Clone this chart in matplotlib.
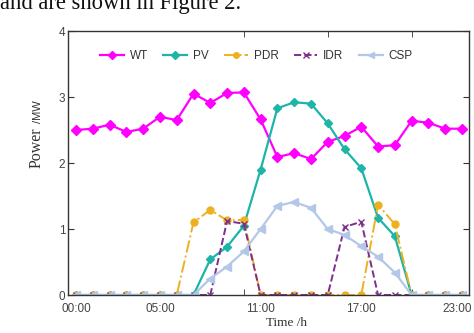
import matplotlib
matplotlib.use("Agg")
import matplotlib.pyplot as plt
import matplotlib.transforms as mtransforms
import numpy as np

hours = list(range(24))
xtick_pos = [0, 5, 11, 17, 23]
xtick_labels = ["00:00", "05:00", "11:00", "17:00", "23:00"]
minor_ticks = [0, 5, 10, 15, 20]

wt = [2.50, 2.52, 2.58, 2.47, 2.52, 2.70, 2.65, 3.05, 2.91, 3.06, 3.07, 2.66,
      2.09, 2.15, 2.06, 2.32, 2.41, 2.55, 2.25, 2.27, 2.64, 2.61, 2.52, 2.52]
pv = [0, 0, 0, 0, 0, 0, 0, 0, 0.54, 0.73, 1.05, 1.90,
      2.83, 2.92, 2.90, 2.60, 2.21, 1.92, 1.17, 0.89, 0, 0, 0, 0]
pdr = [0, 0, 0, 0, 0, 0, 0, 1.10, 1.29, 1.13, 1.14, 0,
       0, 0, 0, 0, 0, 0, 1.37, 1.07, 0, 0, 0, 0]
idr = [0, 0, 0, 0, 0, 0, 0, 0, 0, 1.12, 1.08, 0,
       0, 0, 0, 0, 1.03, 1.11, 0, 0, 0, 0, 0, 0]
csp = [0, 0, 0, 0, 0, 0, 0, 0, 0.25, 0.43, 0.66, 1.00,
       1.35, 1.41, 1.32, 1.00, 0.91, 0.74, 0.58, 0.34, 0, 0, 0, 0]

W, H = 474, 333
fig = plt.figure(figsize=(W / 100, H / 100), dpi=100)
ax = fig.add_axes([68 / W, 1 - 295 / H, (469 - 68) / W, (295 - 31) / H])

ax.plot(hours, wt, color="#FF00FF", marker="D", ms=5.5, lw=1.6, label="WT")
ax.plot(hours, pv, color="#1CB5A8", marker="D", ms=4.5, lw=1.6, label="PV")
ax.plot(hours, pdr, color="#EDB120", marker="o", ms=5, lw=1.4, ls="-.", label="PDR")
ax.plot(hours, idr, color="#7E2F8E", marker="x", ms=5, lw=1.4, ls="--", label="IDR")
ax.plot(hours, csp, color="#B3C8E8", marker="<", ms=5.5, lw=1.6, label="CSP")

ax.set_xlim(-0.48, 23.42)
ax.set_ylim(0, 4)
ax.set_yticks([0, 1, 2, 3, 4])
ax.set_xticks(xtick_pos)
ax.set_xticklabels(xtick_labels, family="Liberation Sans", fontsize=8.5, color="#444444")
ax.set_yticklabels(["0", "1", "2", "3", "4"], family="Liberation Sans", fontsize=8.5, color="#444444")
ax.tick_params(axis="x", which="major", length=0, pad=6)
ax.set_xticks(minor_ticks, minor=True)
ax.tick_params(axis="x", which="minor", direction="in", length=4, top=True, bottom=True, color="#333333")
ax.tick_params(axis="y", which="major", direction="in", length=4, left=True, right=True, pad=2, color="#333333")
for s in ax.spines.values():
    s.set_color("#333333")
    s.set_linewidth(1.0)

last = ax.get_xticklabels()[-1]
last.set_transform(last.get_transform() + mtransforms.ScaledTranslation(-5 / 100, 0, fig.dpi_scale_trans))

leg = ax.legend(loc="center", bbox_to_anchor=(0.47, 0.905), ncol=5, frameon=False,
                prop={"family": "Liberation Sans", "size": 8.5}, handlelength=2.0,
                columnspacing=1.3, handletextpad=0.5, markerscale=0.8)
for t in leg.get_texts():
    t.set_color("#333333")

fig.text(37 / W, 1 - 148 / H, "Power", rotation=90, ha="center", va="center",
         family="Liberation Serif", fontsize=11.5, color="#333333")
fig.text(38 / W, 1 - 112 / H, "/MW", rotation=90, ha="center", va="center",
         family="Liberation Sans", fontsize=8, color="#333333")
fig.text(287 / W, 1 - 323 / H, "Time /h", ha="center", va="center",
         family="Liberation Serif", fontsize=9.5, color="#333333")

fig.text(0 / W, 1 - 9 / H, "and are shown in Figure 2.", ha="left", va="baseline",
         family="Liberation Serif", fontsize=16.3, color="#111111")

fig.savefig("out.png", dpi=100)
